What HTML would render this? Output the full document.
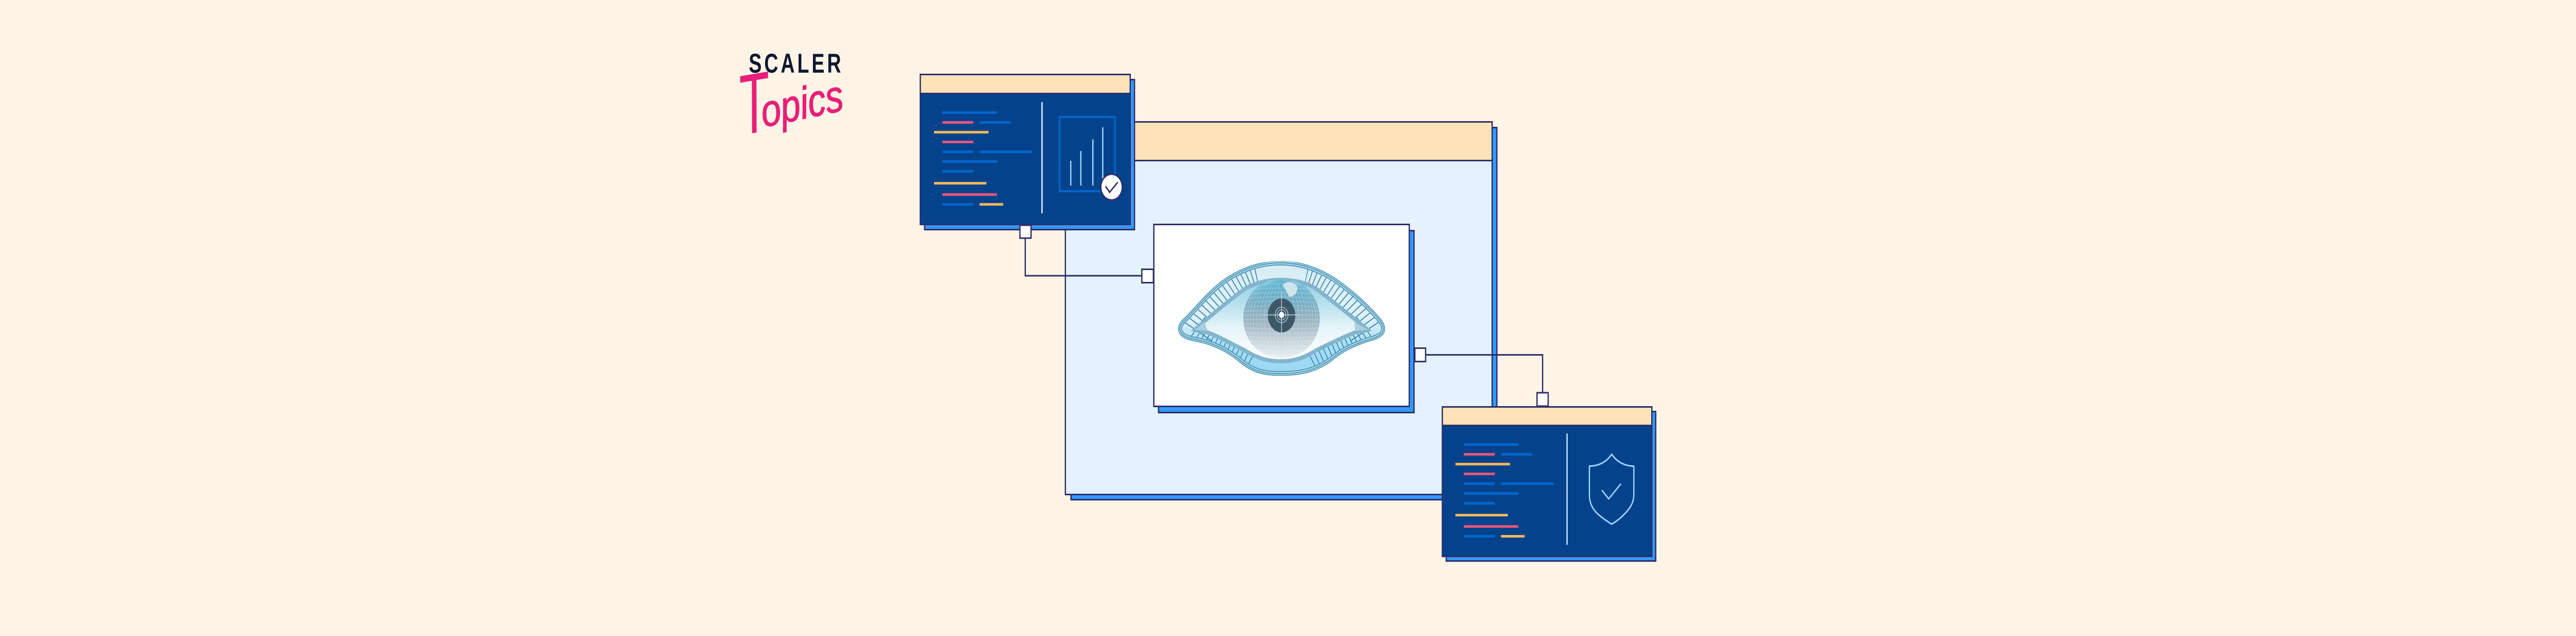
<!DOCTYPE html>
<html lang="en">
<head>
<meta charset="utf-8">
<title>Scaler Topics - Nmap</title>
<style>
html,body{margin:0;padding:0;background:#fff4e6;width:100%;height:100%;overflow:hidden}
svg{display:block;width:100vw;height:100vh}
</style>
</head>
<body>
<svg xmlns="http://www.w3.org/2000/svg" viewBox="0 0 6000 1234" preserveAspectRatio="none">
<defs>
<linearGradient id="scl" x1="0" y1="0" x2="0" y2="1"><stop offset="0" stop-color="#8fd0e4"/><stop offset=".3" stop-color="#b8e2ee"/><stop offset=".6" stop-color="#e6f5fa"/><stop offset="1" stop-color="#ffffff"/></linearGradient>
<linearGradient id="iris" x1="0" y1="0" x2="0" y2="1"><stop offset="0" stop-color="#55b6d2"/><stop offset=".3" stop-color="#78aec4"/><stop offset=".55" stop-color="#9db5c2"/><stop offset=".8" stop-color="#c8d6dd"/><stop offset="1" stop-color="#e6eff3"/></linearGradient>
<linearGradient id="rim" x1="0" y1="0" x2="0" y2="1"><stop offset="0" stop-color="#d6ecf4"/><stop offset=".5" stop-color="#e0f1f8"/><stop offset=".72" stop-color="#a6def5"/><stop offset="1" stop-color="#98d8f3"/></linearGradient>
<path id="ol" d="M2744 636C2748 622 2758 618 2770 607C2800 580 2825 556 2857 538C2895 518 2935 506 2983 506C3035 506 3080 522 3117 543C3150 563 3178 583 3204 607C3216 618 3224 624 3226 636C3227 650 3215 655 3200 660C3165 668 3130 680 3100 702C3060 725 3025 729 2983 729C2945 729 2920 725 2890 705C2855 680 2820 668 2780 662C2755 658 2744 650 2744 636Z"/>
<clipPath id="co"><path d="M2744 636C2748 622 2758 618 2770 607C2800 580 2825 556 2857 538C2895 518 2935 506 2983 506C3035 506 3080 522 3117 543C3150 563 3178 583 3204 607C3216 618 3224 624 3226 636C3227 650 3215 655 3200 660C3165 668 3130 680 3100 702C3060 725 3025 729 2983 729C2945 729 2920 725 2890 705C2855 680 2820 668 2780 662C2755 658 2744 650 2744 636Z"/></clipPath>
<clipPath id="cs"><path d="M2783 640C2820 612 2860 585 2900 560C2925 548 2955 543 2983 543C3012 543 3042 548 3065 560C3105 585 3145 612 3186 640C3175 643 3165 642 3156 645C3125 655 3095 668 3065 680C3035 696 3010 701 2982 701C2955 701 2930 696 2900 680C2870 668 2845 655 2813 645C2803 642 2793 643 2783 640Z"/></clipPath>
<clipPath id="ci"><ellipse cx="2985" cy="618" rx="89" ry="78"/></clipPath>
</defs>

<rect width="6000" height="1234" fill="#fff4e6"/>

<!-- Logo -->
<text transform="translate(1744 141) scale(.85 1)" font-family="Liberation Sans, sans-serif" font-weight="700" font-size="53" fill="#0b1830" textLength="253" lengthAdjust="spacing">SCALER</text>
<text transform="translate(1728 262) rotate(-8) scale(.7 1)" font-family="Liberation Sans, sans-serif" font-style="italic" font-size="165" fill="#e91e78">T</text>
<text transform="translate(1778 247) rotate(-10) scale(.95 1)" font-family="Liberation Sans, sans-serif" font-style="italic" font-size="87" fill="#e91e78" stroke="#e91e78" stroke-width="1.5">opics</text>

<!-- Big window -->
<rect x="2494.5" y="247.5" width="992" height="722" fill="#3399ff" stroke="#2e2e6a" stroke-width="3"/>
<rect x="2481.5" y="236.5" width="994" height="723" fill="#e3f2fe" stroke="#2e2e6a" stroke-width="3"/>
<rect x="2483" y="238" width="991" height="73" fill="#ffe2b8"/>
<rect x="2481" y="310" width="995" height="3" fill="#2e2e6a"/>

<!-- Connector 1 -->
<path d="M2388 460V535H2660" fill="none" stroke="#2e2e6a" stroke-width="3"/>

<!-- Eye panel -->
<rect x="2698.5" y="447.5" width="595" height="353" fill="#3399ff" stroke="#2e2e6a" stroke-width="3"/>
<rect x="2687.5" y="435.5" width="595" height="353" fill="#ffffff" stroke="#2e2e6a" stroke-width="3"/>
<rect x="2659.5" y="522.5" width="27" height="26" fill="#ffffff" stroke="#2e2e6a" stroke-width="3"/>

<!-- Eye -->
<g clip-path="url(#co)">
  <rect x="2740" y="500" width="490" height="235" fill="url(#rim)"/>
  <path d="M2783 640C2820 575 2880 525 2925 515" fill="none" stroke="#2f7ea6" stroke-width="90" stroke-dasharray="1.8 10"/>
  <path d="M3186 640C3150 575 3090 525 3045 515" fill="none" stroke="#2f7ea6" stroke-width="90" stroke-dasharray="1.8 10"/>
  <path d="M2780 645C2820 680 2860 690 2905 720" fill="none" stroke="#2f7ea6" stroke-width="80" stroke-dasharray="1.8 9"/>
  <path d="M3188 645C3150 680 3110 690 3062 720" fill="none" stroke="#2f7ea6" stroke-width="80" stroke-dasharray="1.8 9"/>
  <g fill="none">
    <use href="#ol" stroke="#4f97b8" stroke-width="18"/>
    <use href="#ol" stroke="#b5dcea" stroke-width="14"/>
    <use href="#ol" stroke="#4f97b8" stroke-width="10"/>
    <use href="#ol" stroke="#b5dcea" stroke-width="6"/>
    <use href="#ol" stroke="#4a92b4" stroke-width="3"/>
  </g>
  <rect x="2930" y="504" width="110" height="5" fill="#a9d3e2"/>
</g>

<path d="M2783 640C2820 612 2860 585 2900 560C2925 548 2955 543 2983 543C3012 543 3042 548 3065 560C3105 585 3145 612 3186 640C3175 643 3165 642 3156 645C3125 655 3095 668 3065 680C3035 696 3010 701 2982 701C2955 701 2930 696 2900 680C2870 668 2845 655 2813 645C2803 642 2793 643 2783 640Z" fill="url(#scl)" stroke="#84b5cd" stroke-width="8"/>

<g clip-path="url(#cs)">
  <ellipse cx="2985" cy="618" rx="89" ry="78" fill="url(#iris)"/>
  <g clip-path="url(#ci)" fill="none" stroke="#ffffff" stroke-opacity=".32" stroke-width="1">
    <ellipse cx="2985" cy="618" rx="10" ry="78"/><ellipse cx="2985" cy="618" rx="20" ry="78"/><ellipse cx="2985" cy="618" rx="30" ry="78"/><ellipse cx="2985" cy="618" rx="40" ry="78"/><ellipse cx="2985" cy="618" rx="49" ry="78"/><ellipse cx="2985" cy="618" rx="58" ry="78"/><ellipse cx="2985" cy="618" rx="66" ry="78"/><ellipse cx="2985" cy="618" rx="73" ry="78"/><ellipse cx="2985" cy="618" rx="79" ry="78"/><ellipse cx="2985" cy="618" rx="84" ry="78"/>
    <path d="M2890 548Q2985 536 3080 548M2890 556Q2985 545 3080 556M2890 564Q2985 554 3080 564M2890 572Q2985 563 3080 572M2890 580Q2985 572 3080 580M2890 588Q2985 581 3080 588M2890 596Q2985 590 3080 596M2890 604Q2985 600 3080 604M2890 612Q2985 610 3080 612M2890 620H3080M2890 628Q2985 630 3080 628M2890 636Q2985 640 3080 636M2890 644Q2985 650 3080 644M2890 652Q2985 659 3080 652M2890 660Q2985 668 3080 660M2890 668Q2985 677 3080 668M2890 676Q2985 686 3080 676M2890 684Q2985 695 3080 684"/>
  </g>
  <path d="M2987 554C2995 545 3012 545 3021 555C3024 563 3018 574 3005 576C2997 572 2998 563 2987 554Z" fill="#cfe4ec"/>
</g>

<ellipse cx="2985" cy="612" rx="32" ry="33" fill="#3c5868"/>
<g fill="none" stroke="#c6d8e0" stroke-width="1.3">
  <ellipse cx="2985" cy="611" rx="15" ry="15"/>
  <ellipse cx="2985" cy="611" rx="10" ry="10"/>
</g>
<path d="M2940 611H3030M2985 563V650" stroke="#c3d6df" stroke-width="1.6" fill="none"/>
<circle cx="2985" cy="611" r="6" fill="#ffffff"/>
<path d="M2783 640L2806 625L2813 642Z" fill="#a9cfe0"/>
<path d="M3186 640L3155 625L3156 642Z" fill="#a9cfe0"/>

<!-- Connector 2 -->
<path d="M3320 688.500H3593V765" fill="none" stroke="#2e2e6a" stroke-width="3"/>
<rect x="3295.500" y="675.500" width="25" height="26" fill="#ffffff" stroke="#2e2e6a" stroke-width="3"/>

<!-- Window 1 -->
<rect x="2153.500" y="154.500" width="489" height="291" fill="#3399ff" stroke="#2e2e6a" stroke-width="3"/>
<rect x="2143.500" y="144.500" width="489" height="291" fill="#04438c" stroke="#2e2e6a" stroke-width="3"/>
<rect x="2145" y="146" width="486" height="35" fill="#ffe2b8"/>
<rect x="2143" y="180" width="490" height="3" fill="#2e2e6a"/>
<g>
<rect x="2195" y="216" width="127" height="5" fill="#0066cc"/>
<rect x="2195" y="235" width="72" height="5" fill="#e6557a"/>
<rect x="2281.500" y="235" width="72.500" height="5" fill="#0066cc"/>
<rect x="2175.500" y="254" width="127" height="5" fill="#f0b85c"/>
<rect x="2195" y="273" width="72" height="5" fill="#e6557a"/>
<rect x="2195" y="292" width="72" height="5" fill="#0066cc"/>
<rect x="2281.500" y="292" width="122.500" height="5" fill="#0066cc"/>
<rect x="2195" y="311" width="127" height="5" fill="#0066cc"/>
<rect x="2195" y="330" width="72" height="5" fill="#0066cc"/>
<rect x="2175.500" y="353" width="122" height="5" fill="#f0b85c"/>
<rect x="2195" y="375" width="127" height="5" fill="#e6557a"/>
<rect x="2195" y="394" width="72" height="5" fill="#0066cc"/>
<rect x="2281.500" y="394" width="55" height="5" fill="#f0b85c"/>
</g>
<rect x="2425.500" y="198" width="3" height="216" fill="#e8f4fd"/>
<rect x="2468" y="227" width="129" height="144" fill="none" stroke="#0066cc" stroke-width="4"/>
<g fill="#a3d4f7">
<rect x="2492.500" y="312" width="3" height="48"/>
<rect x="2516" y="293" width="3" height="67"/>
<rect x="2544" y="270.500" width="3" height="89.500"/>
<rect x="2567" y="247" width="3" height="113"/>
</g>
<circle cx="2589" cy="363" r="25" fill="#ffffff" stroke="#2e2e6a" stroke-width="3"/>
<path d="M2575 361.500L2584.500 373L2603.500 353.500" fill="none" stroke="#2e2e6a" stroke-width="3"/>
<rect x="2375.500" y="437" width="26" height="25" fill="#ffffff" stroke="#2e2e6a" stroke-width="3"/>

<!-- Window 3 -->
<rect x="3368.500" y="798.500" width="488" height="290" fill="#3399ff" stroke="#2e2e6a" stroke-width="3"/>
<rect x="3359.500" y="789.500" width="488" height="290" fill="#04438c" stroke="#2e2e6a" stroke-width="3"/>
<rect x="3361" y="791" width="485" height="34" fill="#ffe2b8"/>
<rect x="3359" y="824" width="490" height="3" fill="#2e2e6a"/>
<g>
<rect x="3409.500" y="860" width="127" height="5" fill="#0066cc"/>
<rect x="3409.500" y="879" width="72" height="5" fill="#e6557a"/>
<rect x="3496" y="879" width="72.500" height="5" fill="#0066cc"/>
<rect x="3390" y="898" width="127" height="5" fill="#f0b85c"/>
<rect x="3409.500" y="917" width="72" height="5" fill="#e6557a"/>
<rect x="3409.500" y="936" width="72" height="5" fill="#0066cc"/>
<rect x="3496" y="936" width="122.500" height="5" fill="#0066cc"/>
<rect x="3409.500" y="955" width="127" height="5" fill="#0066cc"/>
<rect x="3409.500" y="974" width="72" height="5" fill="#0066cc"/>
<rect x="3390" y="997" width="122" height="5" fill="#f0b85c"/>
<rect x="3409.500" y="1019" width="127" height="5" fill="#e6557a"/>
<rect x="3409.500" y="1038" width="72" height="5" fill="#0066cc"/>
<rect x="3496" y="1038" width="55" height="5" fill="#f0b85c"/>
</g>
<rect x="3648.500" y="841" width="3" height="216" fill="#c9e4f8"/>
<path d="M3754 881.500C3742 896 3725 904 3702 904.500V960C3702 978 3711 990 3724 999C3734 1006 3744 1012 3754 1017C3764 1012 3774 1006 3783 998C3796 987 3805.500 976 3805.500 960V904.500C3783 904 3766 896 3754 881.500Z" fill="none" stroke="#a3d4f7" stroke-width="3"/>
<path d="M3731 951L3747 968L3775.500 938.500" fill="none" stroke="#a3d4f7" stroke-width="3"/>
<rect x="3580" y="762" width="26" height="26" fill="#ffffff" stroke="#2e2e6a" stroke-width="3"/>
</svg>
</body>
</html>
